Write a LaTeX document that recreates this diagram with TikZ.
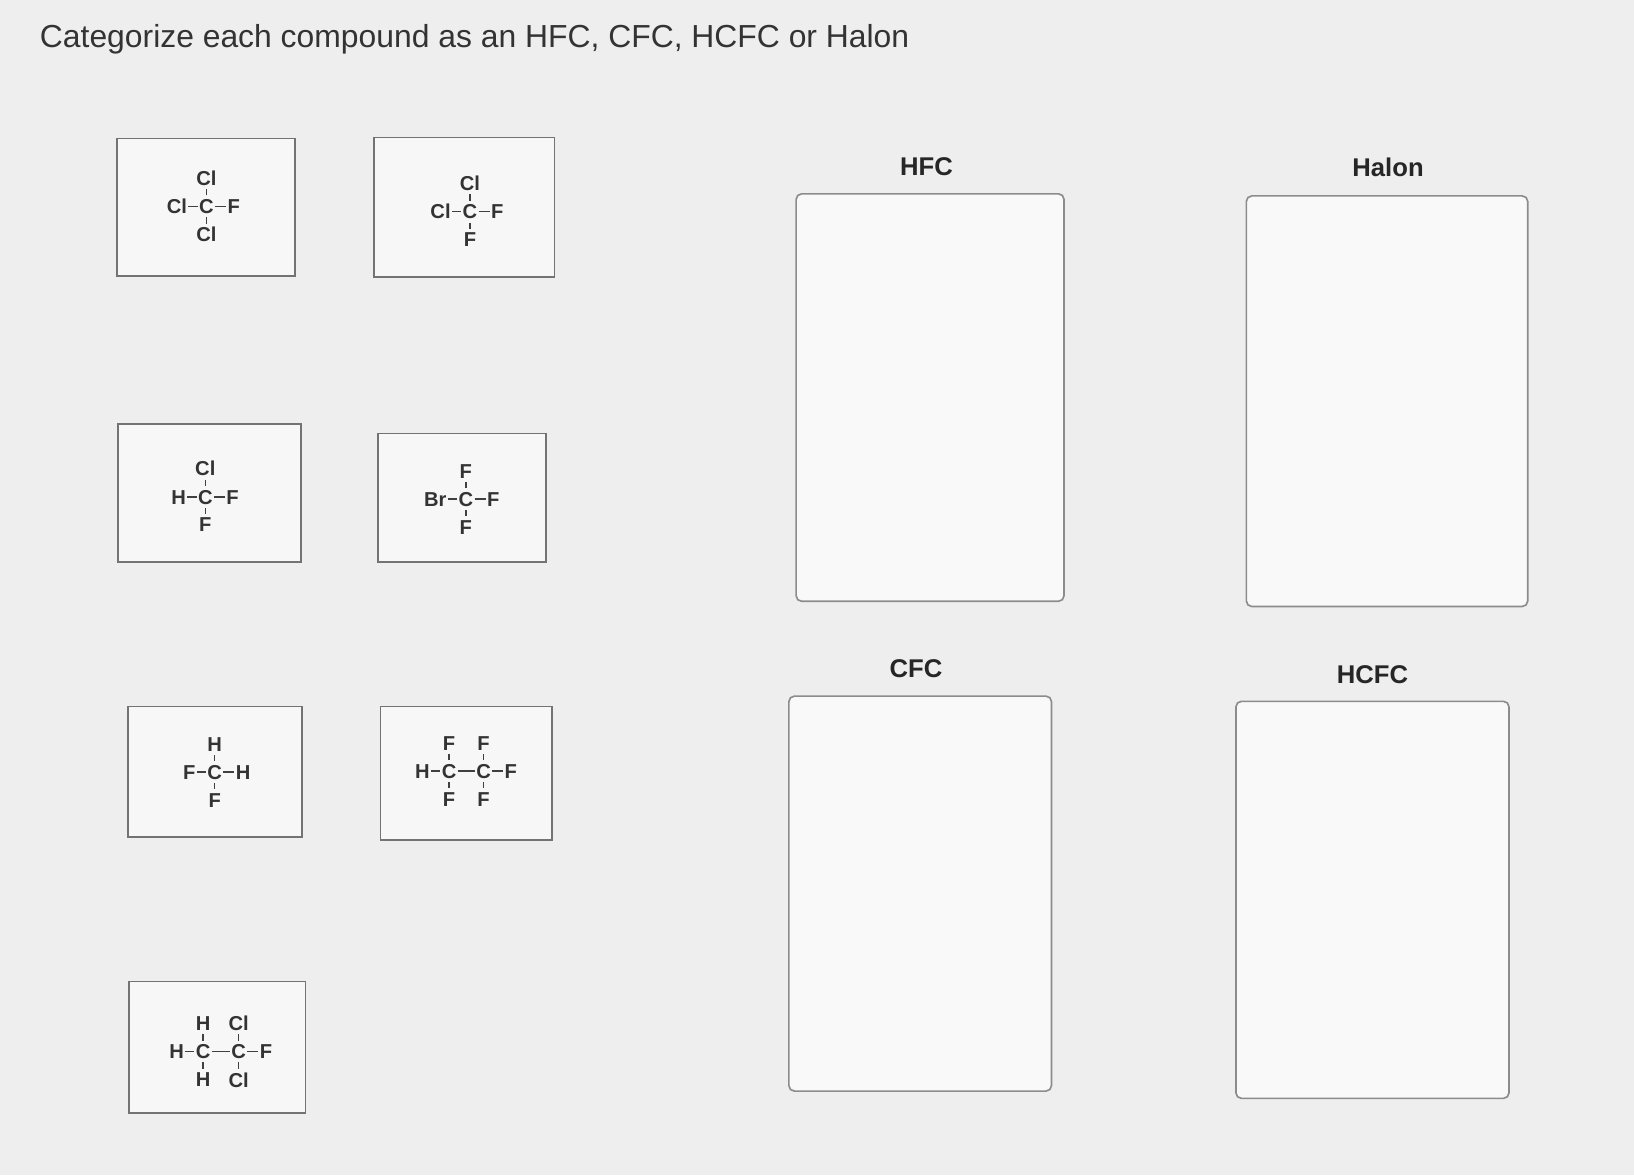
\documentclass[tikz,border=0pt]{standalone}
\usepackage{fontspec}
\setmainfont{Liberation Sans}
\setsansfont{Liberation Sans}
\begin{document}
\begin{tikzpicture}[x=0.02cm,y=-0.02cm,
  atom/.style={font=\sffamily\bfseries\fontsize{11}{12}\selectfont,inner sep=0.6pt,text=black!80},
  bond/.style={draw=black!75,line width=0.8pt},
  cbox/.style={draw=black!55,line width=0.9pt,fill=gray!6},
  catbox/.style={draw=black!45,line width=0.9pt,rounded corners=3pt,fill=gray!5},
  catlab/.style={font=\sffamily\bfseries\fontsize{14}{16}\selectfont,text=black!85}]
\newcommand\carb[2]{\node[atom] (#1) at #2 {C};}
\newcommand\up[2]{\node[atom,anchor=south] (#1t) at ([yshift=6pt]#1.north) {#2};\draw[bond] ([yshift=1.3pt]#1.north) -- ([yshift=-1.3pt]#1t.south);}
\newcommand\dn[2]{\node[atom,anchor=north] (#1b) at ([yshift=-6pt]#1.south) {#2};\draw[bond] ([yshift=-1.3pt]#1.south) -- ([yshift=1.3pt]#1b.north);}
\newcommand\lf[2]{\node[atom,anchor=east] (#1l) at ([xshift=-5pt]#1.west) {#2};\draw[bond] (#1l.east) -- (#1.west);}
\newcommand\rt[2]{\node[atom,anchor=west] (#1r) at ([xshift=6pt]#1.east) {#2};\draw[bond] (#1.east) -- (#1r.west);}
\fill[gray!13] (0,0) rectangle (1568,1128);
\useasboundingbox (0,0) rectangle (1568,1128);
\node[anchor=west,font=\sffamily\fontsize{17.4}{20}\selectfont,text=black!80,inner sep=0pt] (title) at (38,38) {Categorize each compound as an HFC, CFC, HCFC or Halon};
% compound boxes
\draw[cbox] (112,133) rectangle (283,265);
\draw[cbox] (359,132) rectangle (532,266);
\draw[cbox] (113,407) rectangle (289,539);
\draw[cbox] (363,416) rectangle (524,539);
\draw[cbox] (123,678) rectangle (290,803);
\draw[cbox] (365,678) rectangle (530,806);
\draw[cbox] (124,942) rectangle (293,1068);
% molecules
\carb{a}{(198,198)}\up{a}{Cl}\dn{a}{Cl}\lf{a}{Cl}\rt{a}{F}
\carb{b}{(451,203)}\up{b}{Cl}\dn{b}{F}\lf{b}{Cl}\rt{b}{F}
\carb{c}{(197,477)}\up{c}{Cl}\dn{c}{F}\lf{c}{H}\rt{c}{F}
\carb{d}{(447,479)}\up{d}{F}\dn{d}{F}\lf{d}{Br}\rt{d}{F}
\carb{e}{(206,741)}\up{e}{H}\dn{e}{F}\lf{e}{F}\rt{e}{H}
\carb{f}{(431,740)}\up{f}{F}\dn{f}{F}\lf{f}{H}
\carb{g}{(464,740)}\up{g}{F}\dn{g}{F}\rt{g}{F}
\draw[bond] (f.east) -- (g.west);
\carb{h}{(195,1009)}\up{h}{H}\dn{h}{H}\lf{h}{H}
\carb{i}{(229,1009)}\up{i}{Cl}\dn{i}{Cl}\rt{i}{F}
\draw[bond] (h.east) -- (i.west);
% categories
\node[catlab] (hfc) at (889,160) {HFC};
\draw[catbox] (764,186) rectangle (1021,577);
\node[catlab] (halon) at (1332,161) {Halon};
\draw[catbox] (1196,188) rectangle (1466,582);
\node[catlab] (cfc) at (879,642) {CFC};
\draw[catbox] (757,668) rectangle (1009,1047);
\node[catlab] (hcfc) at (1317,647) {HCFC};
\draw[catbox] (1186,673) rectangle (1448,1054);
\end{tikzpicture}
\end{document}
